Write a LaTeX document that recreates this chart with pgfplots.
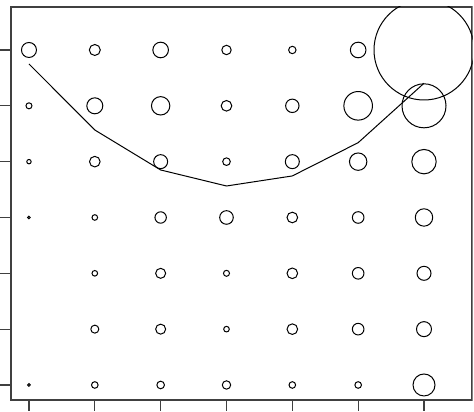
\documentclass[border=0pt]{standalone}
\usepackage{pgfplots}
\pgfplotsset{compat=1.18}
\usepackage{pgfplotstable}

% bubble grid: x, y, radius (pt)
\pgfplotstableread{
x y r
1 7 7.5
2 7 5.5
3 7 7.8
4 7 4.7
5 7 3.7
6 7 7.8
7 7 50
1 6 3
2 6 8
3 6 9.2
4 6 5.3
5 6 6.7
6 6 14.3
7 6 22
1 5 2.2
2 5 5.3
3 5 7
4 5 3.8
5 5 7
6 5 8.7
7 5 12.2
1 4 1.3
2 4 2.8
3 4 5.7
4 4 6.8
5 4 5.3
6 4 5.8
7 4 8.7
2 3 2.8
3 3 5
4 3 3
5 3 5.3
6 3 5.8
7 3 7
2 2 4
3 2 5
4 2 2.8
5 2 5.3
6 2 5.8
7 2 7.5
1 1 1.3
2 1 3.3
3 1 3.8
4 1 4.2
5 1 3.3
6 1 3.3
7 1 11
}\bubbles

\pgfplotstableread{
x y
1 6.75
2 5.567
3 4.851
4 4.564
5 4.744
6 5.34
7 6.404
}\curve

\begin{document}
\begin{tikzpicture}
\begin{scope}
% axis box sits at the origin; keep the big bubble inside it
\clip (-13pt,-14pt) rectangle (461.6pt,393.6pt);
\begin{axis}[
    name=ax,
    at={(0,0)}, anchor=south west,
    scale only axis,
    width=461pt, height=393pt,
    xmin=0.727, xmax=7.729,
    ymin=0.731, ymax=7.77,
    xtick={1,...,7}, ytick={1,...,7},
    xticklabels={}, yticklabels={},
    tick pos=left,
    tick align=outside,
    major tick length=11pt,
    axis line style={draw=black!75, line width=1.2pt},
    every tick/.style={draw=black!75, line width=1.1pt},
]
\addplot[
    scatter, only marks, mark=o, black, line width=1pt,
    point meta=\thisrow{r},
    visualization depends on={\thisrow{r} \as \rad},
    scatter/use mapped color={draw=black},
    scatter/@pre marker code/.append style={/tikz/mark size=\rad pt},
] table[x=x, y=y] {\bubbles};
\addplot[black, line width=1pt, mark=none] table[x=x, y=y] {\curve};
\end{axis}
\end{scope}
\pgfresetboundingbox
\path[use as bounding box] ([shift={(-11pt,-12pt)}]ax.south west) rectangle ([shift={(2pt,7pt)}]ax.north east);
\end{tikzpicture}
\end{document}
